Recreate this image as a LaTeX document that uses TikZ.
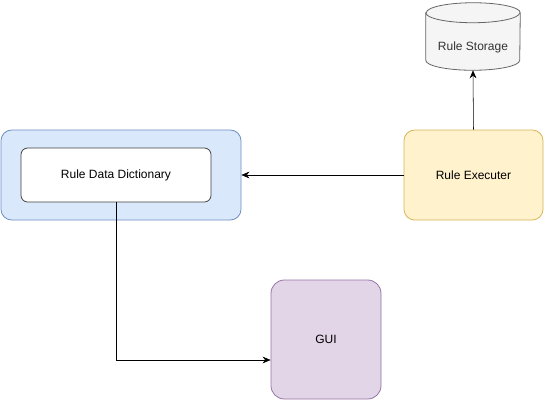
\documentclass[tikz,border=0pt]{standalone}
\usepackage{fontspec}
\setmainfont{Liberation Sans}
\usetikzlibrary{arrows.meta,calc,positioning}
\definecolor{dictfill}{HTML}{DAE8FC}
\definecolor{dictline}{HTML}{6C8EBF}
\definecolor{execfill}{HTML}{FFF2CC}
\definecolor{execline}{HTML}{D6B656}
\definecolor{guifill}{HTML}{E1D5E7}
\definecolor{guiline}{HTML}{9673A6}
\definecolor{storefill}{HTML}{F5F5F5}
\definecolor{storeline}{HTML}{666666}

\begin{document}
\begin{tikzpicture}[
      x=0.75pt, y=-0.75pt,
      font=\fontsize{9pt}{11pt}\selectfont,
      >={Stealth[length=6pt,width=5pt]},
      box/.style={rounded corners=8pt, line width=0.6pt, align=center, inner sep=0pt},
      container/.style={box, draw=dictline, fill=dictfill, minimum width=180pt, minimum height=67.5pt},
      entry/.style={box, rounded corners=5pt, draw=black!75, fill=white, minimum width=142.5pt, minimum height=40.5pt},
      executer/.style={box, draw=execline, fill=execfill, minimum width=104.25pt, minimum height=67.5pt},
      gui/.style={box, rounded corners=10pt, draw=guiline, fill=guifill, minimum width=82.5pt, minimum height=89.25pt},
      storeradii/.style={x radius=35.25pt, y radius=7.5pt},
]

\useasboundingbox (0,0) rectangle (544,401);

\node[container] (dict_box) at (121,175) {};
\node[entry] (dict) at (116,175) {Rule Data Dictionary};
\node[executer] (exec) at (473.5,175) {Rule Executer};
\node[gui] (gui) at (326,339.5) {GUI};
\coordinate (gui_in) at ($(gui.west)+(0,20.5)$);

% storage cylinder
\node[minimum width=70.5pt, minimum height=50.25pt, inner sep=0pt] (store) at (473,36.5) {};
\draw[draw=storeline, fill=storefill, line width=0.6pt]
  ($(store.north west)+(0,10)$) -- ($(store.south west)+(0,-10)$)
  arc[start angle=180, end angle=360, storeradii]
  -- ($(store.north east)+(0,10)$)
  arc[start angle=0, end angle=180, storeradii] -- cycle;
\draw[draw=storeline, line width=0.6pt]
  ($(store.north west)+(0,10)$) arc[start angle=180, end angle=360, storeradii];
\node[text=black!80] (store_label) at ($(store.center)+(0,11)$) {Rule Storage};

\draw[->] (exec.west) -- (dict_box.east);
\draw[->] (exec.north) -- (store.south);
\draw[->] (dict.south) |- (gui_in);

\end{tikzpicture}
\end{document}
